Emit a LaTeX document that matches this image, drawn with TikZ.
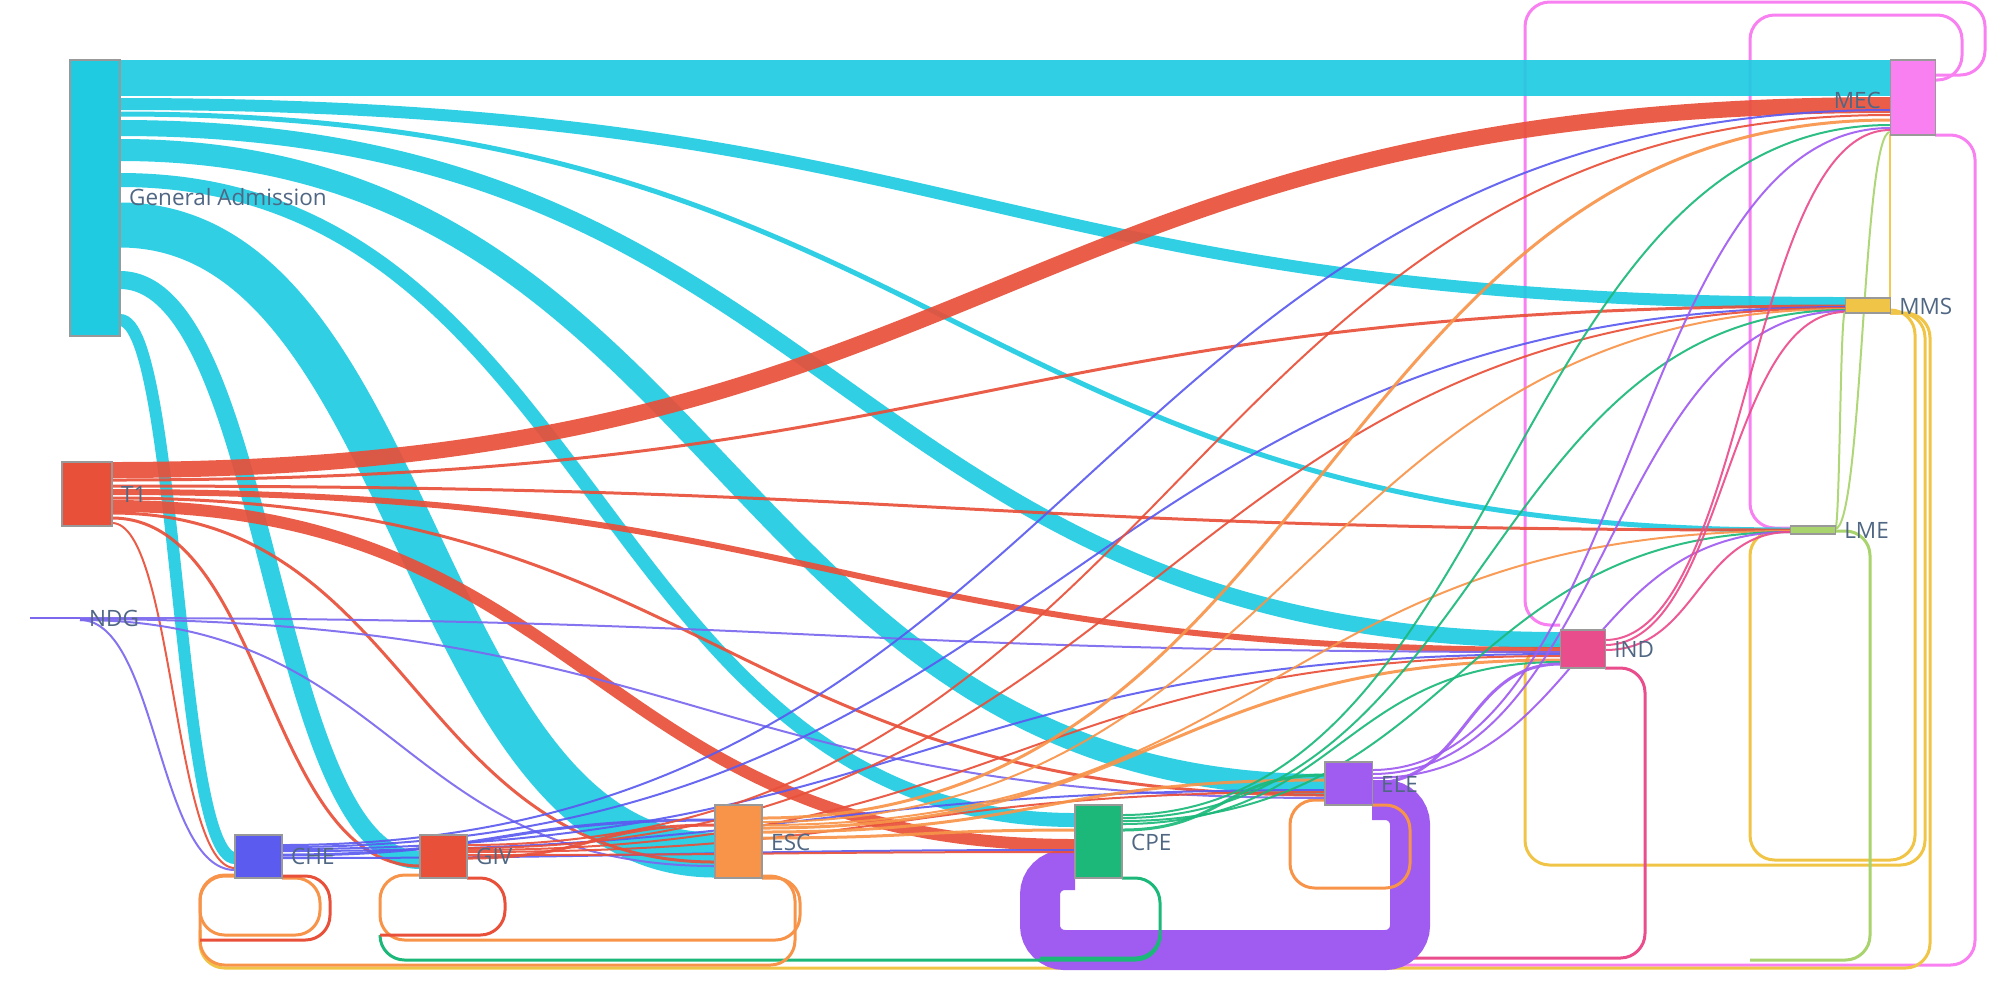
\documentclass[tikz,border=0pt]{standalone}
\usepackage{fontspec}
\setmainfont{Open Sans}
\definecolor{cga}{HTML}{1ECBE1}
\definecolor{ct}{HTML}{E8503A}
\definecolor{cndg}{HTML}{7B68EE}
\definecolor{cche}{HTML}{5B5BF0}
\definecolor{cgiv}{HTML}{E8503A}
\definecolor{cesc}{HTML}{F7944A}
\definecolor{ccpe}{HTML}{1BB87A}
\definecolor{cele}{HTML}{A05CF0}
\definecolor{cind}{HTML}{EA4D8C}
\definecolor{clme}{HTML}{A8D36D}
\definecolor{cmms}{HTML}{F0C446}
\definecolor{cmec}{HTML}{F880F0}
\definecolor{lab}{HTML}{506784}
\newcommand\fl[6]{\draw[line width=#2*0.01cm,#1,opacity=.92] (#3,#4) .. controls ({(#3+#5)/2},#4) and ({(#3+#5)/2},#6) .. (#5,#6);}
\tikzset{bar/.style={draw=black!40,line width=0.3pt},
lbl/.style={text=lab,font=\fontsize{6.4}{7}\selectfont,inner sep=1pt},
loop/.style={rounded corners=7pt,line width=0.3mm}}
\begin{document}
\begin{tikzpicture}[x=0.01cm,y=-0.01cm]
\useasboundingbox (0,0) rectangle (1992,981);
% circular loops
\draw[loop,cmec] (1935,75) -- (1985,75) |- (1525,2) |- (1560,625);
\draw[loop,cmec] (1935,80) -- (1962,80) |- (1750,15) |- (1790,528);
\draw[loop,cmec] (1935,135) -- (1975,135) |- (1040,965) -- (1040,940);
\draw[loop,cmms] (1890,313) -- (1925,313) |- (1525,865) |- (1560,645);
\draw[loop,cmms] (1890,310) -- (1915,310) |- (1750,860) |- (1790,531);
\draw[loop,cmms] (1890,313) -- (1930,313) |- (200,968) -- (200,930);
\draw[loop,clme] (1835,531) -- (1870,531) |- (1750,960);
\draw[loop,cind] (1605,668) -- (1645,668) |- (1040,958);
\draw[loop,cele,line width=4mm] (1372,800) -- (1410,800) |- (1040,950) |- (1075,870);
\draw[loop,cesc] (1372,805) -- (1410,805) |- (1290,888) |- (1325,800);
\draw[loop,ccpe] (1122,878) -- (1160,878) |- (1040,958);
\draw[loop,ccpe] (1160,940) |- (380,960) -- (380,935);
\draw[loop,cesc] (762,878) -- (800,878) |- (380,940) |- (420,875);
\draw[loop,cesc] (762,876) -- (795,876) |- (200,965) |- (235,875);
\draw[loop,cgiv] (467,878) -- (505,878) |- (380,935);
\draw[loop,cesc] (282,878) -- (320,878) |- (200,935) |- (235,876);
\draw[loop,cgiv] (282,876) -- (330,876) |- (200,940);
% GA flows
\fl{cga}{36}{120}{78}{1890}{78}
\fl{cga}{12}{120}{104}{1845}{303}
\fl{cga}{5}{120}{114}{1790}{530}
\fl{cga}{16}{120}{128}{1560}{640}
\fl{cga}{22}{120}{150}{1325}{785}
\fl{cga}{14}{120}{180}{1075}{820}
\fl{cga}{45}{120}{225}{715}{855}
\fl{cga}{18}{120}{280}{420}{860}
\fl{cga}{12}{120}{320}{235}{858}
% T1 flows
\fl{ct}{16}{112}{470}{1890}{105}
\fl{ct}{3}{112}{480}{1845}{306}
\fl{ct}{3}{112}{486}{1790}{530}
\fl{ct}{6}{112}{492}{1560}{650}
\fl{ct}{3}{112}{498}{1325}{795}
\fl{ct}{12}{112}{506}{1075}{845}
\fl{ct}{3}{112}{513}{715}{862}
\fl{ct}{3}{112}{518}{420}{866}
\fl{ct}{2}{112}{523}{235}{868}
% NDG
\fl{cndg}{2}{80}{618}{1560}{652}
\fl{cndg}{2}{80}{619}{1325}{798}
\fl{cndg}{2}{80}{620}{235}{870}
\fl{cndg}{2}{80}{620}{715}{866}
% CHE
\fl{cche}{2}{282}{845}{1890}{110}
\fl{cche}{2}{282}{847}{1845}{307}
\fl{cche}{2}{282}{849}{1560}{654}
\fl{cche}{2}{282}{851}{1325}{790}
\fl{cche}{3}{282}{855}{715}{820}
\fl{cche}{2}{282}{858}{1075}{850}
% GIV
\fl{cgiv}{2}{467}{845}{1890}{115}
\fl{cgiv}{2}{467}{848}{1845}{308}
\fl{cgiv}{2}{467}{850}{1560}{656}
\fl{cgiv}{2}{467}{852}{1325}{792}
\fl{cgiv}{2}{467}{855}{1075}{852}
\fl{cgiv}{3}{467}{858}{715}{825}
% ESC
\fl{cesc}{3}{762}{818}{1890}{120}
\fl{cesc}{2}{762}{822}{1845}{309}
\fl{cesc}{2}{762}{825}{1790}{531}
\fl{cesc}{3}{762}{828}{1560}{660}
\fl{cesc}{3}{762}{832}{1325}{780}
\fl{cesc}{3}{762}{838}{1075}{830}
% CPE
\fl{ccpe}{2}{1122}{815}{1890}{125}
\fl{ccpe}{2}{1122}{818}{1845}{310}
\fl{ccpe}{2}{1122}{821}{1790}{532}
\fl{ccpe}{2}{1122}{824}{1560}{662}
\fl{ccpe}{3}{1122}{830}{1325}{775}
% ELE
\fl{cele}{2}{1372}{770}{1890}{128}
\fl{cele}{2}{1372}{774}{1845}{311}
\fl{cele}{2}{1372}{778}{1790}{532}
\fl{cele}{3}{1372}{783}{1560}{664}
% IND
\fl{cind}{2}{1605}{640}{1890}{130}
\fl{cind}{2}{1605}{645}{1845}{312}
\fl{cind}{2}{1605}{650}{1790}{532}
% LME, MMS
\fl{clme}{2}{1835}{529}{1890}{132}
\fl{clme}{2}{1835}{530}{1845}{312}
\fl{cmms}{2}{1890}{306}{1890}{134}
\draw[cndg,line width=0.02cm] (30,618) -- (80,618);
% nodes
\fill[cga,bar] (70,60) rectangle (120,336);
\fill[ct,bar] (62,462) rectangle (112,526);
\fill[cche,bar] (235,835) rectangle (282,878);
\fill[cgiv,bar] (420,835) rectangle (467,878);
\fill[cesc,bar] (715,805) rectangle (762,878);
\fill[ccpe,bar] (1075,805) rectangle (1122,878);
\fill[cele,bar] (1325,762) rectangle (1372,805);
\fill[cind,bar] (1560,630) rectangle (1605,668);
\fill[clme,bar] (1790,526) rectangle (1835,534);
\fill[cmms,bar] (1845,298) rectangle (1890,313);
\fill[cmec,bar] (1890,60) rectangle (1935,135);
\node[lbl,anchor=west] (nga) at (125,197) {General Admission};
\node[lbl,anchor=west] (nt1) at (117,494) {T1};
\node[lbl,anchor=west] (nndg) at (85,618) {NDG};
\node[lbl,anchor=west] (nche) at (287,856) {CHE};
\node[lbl,anchor=west] (ngiv) at (472,856) {GIV};
\node[lbl,anchor=west] (nesc) at (767,842) {ESC};
\node[lbl,anchor=west] (ncpe) at (1127,842) {CPE};
\node[lbl,anchor=west] (nele) at (1377,784) {ELE};
\node[lbl,anchor=west] (nind) at (1610,649) {IND};
\node[lbl,anchor=west] (nlme) at (1840,530) {LME};
\node[lbl,anchor=west] (nmms) at (1895,306) {MMS};
\node[lbl,anchor=east] (nmec) at (1885,100) {MEC};
\end{tikzpicture}
\end{document}
